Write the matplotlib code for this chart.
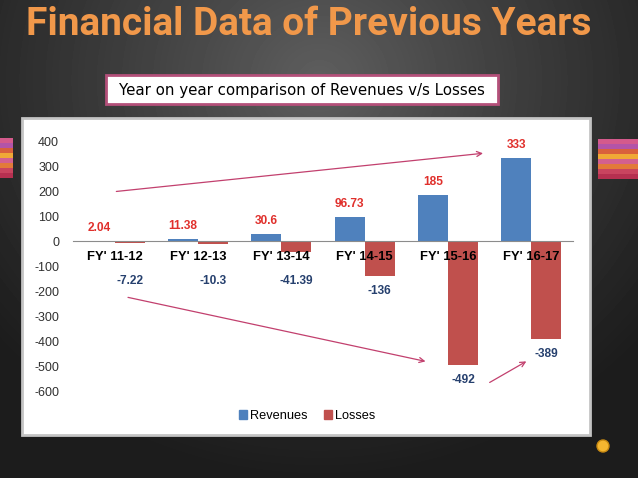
import numpy as np
import matplotlib.pyplot as plt
from matplotlib.patches import Rectangle, Circle

# =========================
# Data
# =========================

years = ["FY' 11-12", "FY' 12-13", "FY' 13-14", "FY' 14-15", "FY' 15-16", "FY' 16-17"]
revenues = [2.04, 11.38, 30.6, 96.73, 185, 333]
losses = [-7.22, -10.3, -41.39, -136, -492, -389]
y_ticks = [400, 300, 200, 100, 0, -100, -200, -300, -400, -500, -600]

W, H = 638, 478
BLUE = "#4f81bd"
RED = "#c0504d"
ARROW = "#c2406e"
CHART_FONT = ["Liberation Sans", "DejaVu Sans"]

fig = plt.figure(figsize=(W / 100, H / 100), dpi=100)

# =========================
# Slide background (pixel coordinates)
# =========================

bg = fig.add_axes([0, 0, 1, 1], zorder=-2)
bg.set_xlim(0, W)
bg.set_ylim(H, 0)
bg.axis("off")

yy, xx = np.mgrid[0:H, 0:W]
d = np.hypot((xx - 319) / 430, (yy - 80) / 400)
shade = 0.11 + 0.26 * np.clip(1 - d, 0, 1) ** 1.1
bg.imshow(shade, cmap="gray", vmin=0, vmax=1, extent=(0, W, H, 0), aspect="auto")

bg.text(309, 35, "Financial Data of Previous Years", ha="center", va="baseline",
        fontsize=28, fontweight="bold", color="#f1984a",
        family=["Roboto", "DejaVu Sans"])

bg.add_patch(Rectangle((106, 75), 392, 29, facecolor="white", edgecolor="#b4507a", lw=2))
bg.text(302, 90, "Year on year comparison of Revenues v/s Losses", ha="center",
        va="center", fontsize=10.8, color="black")

# white chart area
bg.add_patch(Rectangle((22, 118), 568, 317, facecolor="white", edgecolor="#c4c4c4", lw=2))

# decorative stripes
stripe_colors = ["#d45a8c", "#b354a8", "#d9603c", "#f0a836",
                 "#d3608f", "#e27a3a", "#c9445f", "#b63050"]
for k, c in enumerate(stripe_colors):
    bg.add_patch(Rectangle((0, 138 + k * 5), 13, 5, facecolor=c, lw=0))
    bg.add_patch(Rectangle((598, 139 + k * 5), 40, 5, facecolor=c, lw=0))

bg.add_patch(Circle((603, 446), 6, facecolor="#f5b630", edgecolor="#c98a12", lw=1))

# =========================
# Bar chart
# =========================

ax = fig.add_axes([73 / W, 1 - 392 / H, 500 / W, 251 / H], zorder=1)
ax.set_facecolor("none")

x = np.arange(len(years))
bw = 0.36
ax.bar(x - bw / 2, revenues, bw, color=BLUE, zorder=1)
ax.bar(x + bw / 2, losses, bw, color=RED, zorder=1)

ax.set_xlim(-0.5, len(years) - 0.5)
ax.set_ylim(-600, 400)

for side in ["top", "right", "left"]:
    ax.spines[side].set_visible(False)
ax.spines["bottom"].set_position(("data", 0))
ax.spines["bottom"].set_color("#8c8c8c")

ax.set_xticks(x)
ax.set_xticklabels(years, fontweight="bold", fontsize=9.4, family=CHART_FONT)
ax.set_yticks(y_ticks)
ax.set_yticklabels([str(t) for t in y_ticks], fontsize=9, family=CHART_FONT, color="#303030")
ax.tick_params(axis="x", length=0, pad=7)
ax.tick_params(axis="y", length=0, pad=10)
ax.xaxis.set_zorder(3)

for i, v in enumerate(revenues):
    ax.annotate(f"{v:g}", (x[i] - bw / 2, v), xytext=(0, 13), textcoords="offset pixels",
                ha="center", va="center", fontsize=8.6, fontweight="bold",
                color="#e0302c", family=CHART_FONT)

for i, v in enumerate(losses):
    ax.annotate(f"{v:g}", (x[i] + bw / 2, min(v, -100)), xytext=(0, -15),
                textcoords="offset pixels", ha="center", va="center", fontsize=8.6,
                fontweight="bold", color="#26406e", family=CHART_FONT)

# trend arrows
arrows = [((0.02, 199), (4.42, 351)),
          ((0.16, -223), (3.73, -478)),
          ((4.50, -562), (4.94, -478))]
for start, end in arrows:
    ax.annotate("", xy=end, xytext=start, annotation_clip=False,
                arrowprops=dict(arrowstyle="->", color=ARROW, lw=0.9, mutation_scale=9,
                                shrinkA=0, shrinkB=0))

handles = [Rectangle((0, 0), 1, 1, color=BLUE), Rectangle((0, 0), 1, 1, color=RED)]
ax.legend(handles, ["Revenues", "Losses"], loc="center", ncol=2, frameon=False,
          bbox_to_anchor=(307 / W, 1 - 416 / H), bbox_transform=fig.transFigure,
          handlelength=0.65, handleheight=0.65, handletextpad=0.2, columnspacing=1.3,
          prop={"family": CHART_FONT, "size": 9.2})

plt.savefig("out.png", dpi=100)
